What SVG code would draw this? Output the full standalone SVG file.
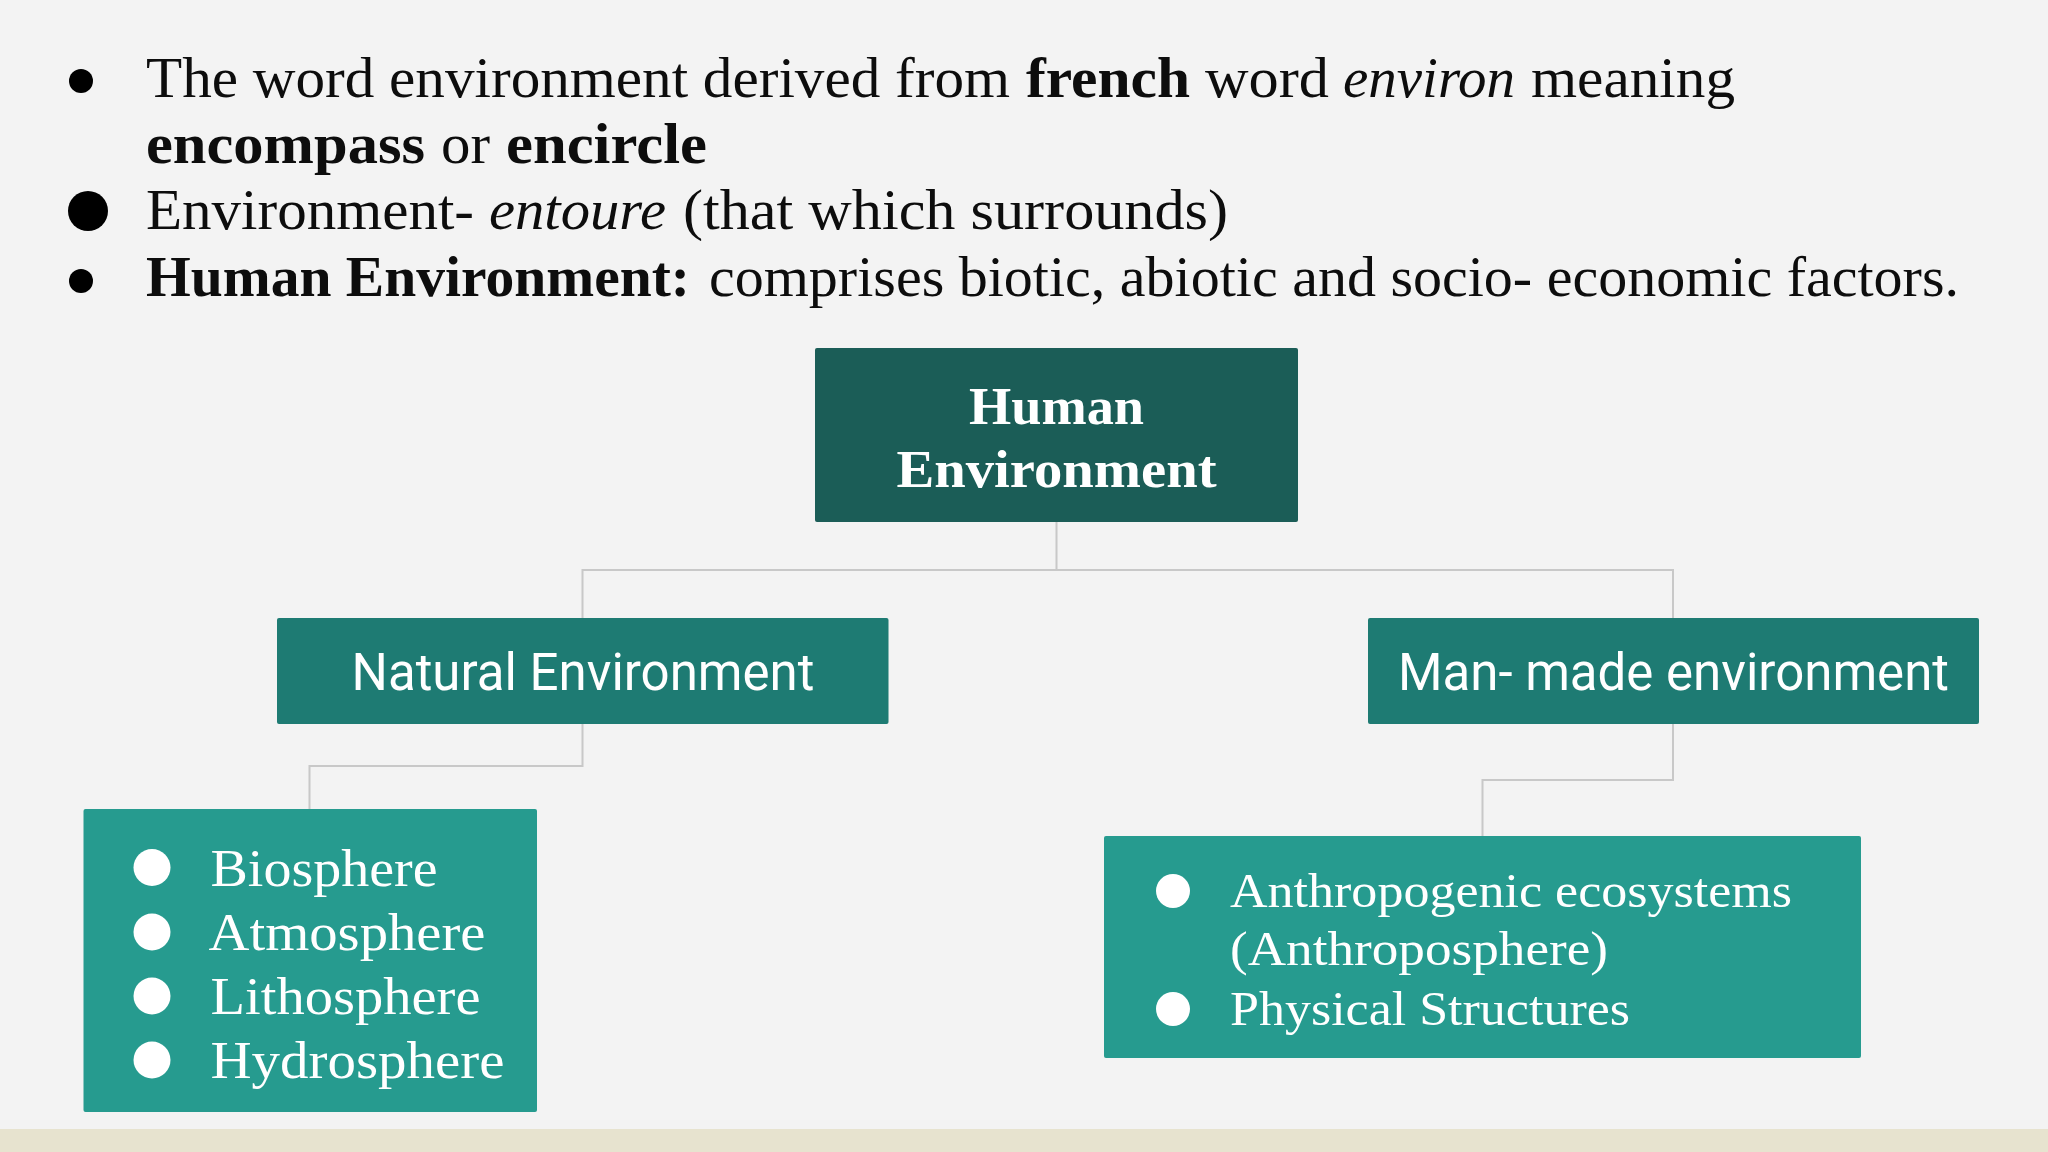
<svg xmlns="http://www.w3.org/2000/svg" width="2048" height="1152" viewBox="0 0 2048 1152">
<style>
.ser{font-family:"Liberation Serif","Times New Roman",serif;font-size:56px;fill:#0d0d0d}
.b{font-weight:bold}
.i{font-style:italic}
.hb{font-family:"Liberation Serif",serif;font-weight:bold;font-size:52px;fill:#ffffff}
.rb{font-family:Roboto,"Noto Sans",sans-serif;font-size:51px;fill:#ffffff}
.ls{font-family:"Liberation Serif",serif;font-size:53px;fill:#ffffff}
.as{font-family:"Liberation Serif",serif;font-size:48px;fill:#ffffff}
.conn{fill:none;stroke:#c8c8c8;stroke-width:2}
</style>
<rect x="0" y="0" width="2048" height="1152" fill="#f3f3f3"/>
<rect x="0" y="1129" width="2048" height="23" fill="#e7e3cf"/>

<g id="intro">
<circle cx="81" cy="81" r="12" fill="#000"/>
<text class="ser" x="146" y="97" textLength="864" lengthAdjust="spacingAndGlyphs">The word environment derived from</text>
<text class="ser b" x="1026" y="97" textLength="164" lengthAdjust="spacingAndGlyphs">french</text>
<text class="ser" x="1205" y="97" textLength="124" lengthAdjust="spacingAndGlyphs">word</text>
<text class="ser i" x="1343" y="97" textLength="172" lengthAdjust="spacingAndGlyphs">environ</text>
<text class="ser" x="1531" y="97" textLength="204" lengthAdjust="spacingAndGlyphs">meaning</text>
<text class="ser b" x="146" y="163" textLength="279" lengthAdjust="spacingAndGlyphs">encompass</text>
<text class="ser" x="441" y="163" textLength="49" lengthAdjust="spacingAndGlyphs">or</text>
<text class="ser b" x="506" y="163" textLength="201" lengthAdjust="spacingAndGlyphs">encircle</text>
<circle cx="88" cy="211" r="20" fill="#000"/>
<text class="ser" x="146" y="229" textLength="328" lengthAdjust="spacingAndGlyphs">Environment-</text>
<text class="ser i" x="489" y="229" textLength="177" lengthAdjust="spacingAndGlyphs">entoure</text>
<text class="ser" x="683" y="229" textLength="545" lengthAdjust="spacingAndGlyphs">(that which surrounds)</text>
<circle cx="81" cy="281" r="12" fill="#000"/>
<text class="ser b" x="146" y="296" textLength="544" lengthAdjust="spacingAndGlyphs">Human Environment:</text>
<text class="ser" x="709" y="296" textLength="1250" lengthAdjust="spacingAndGlyphs">comprises biotic, abiotic and socio- economic factors.</text>
</g>

<g id="connectors">
<path class="conn" d="M1056.5,522 V570 H582.5 V618"/>
<path class="conn" d="M1056.5,570 H1673 V618"/>
<path class="conn" d="M582.5,724 V766 H309.5 V809"/>
<path class="conn" d="M1673,724 V780 H1482.5 V836"/>
</g>

<g id="human-environment">
<rect x="815" y="348" width="483" height="174" rx="2" fill="#1b5d57"/>
<text class="hb" x="1056.5" y="424" text-anchor="middle" textLength="175" lengthAdjust="spacingAndGlyphs">Human</text>
<text class="hb" x="1056.5" y="487" text-anchor="middle" textLength="320" lengthAdjust="spacingAndGlyphs">Environment</text>
</g>

<g id="natural-environment">
<rect x="277" y="618" width="611.5" height="106" rx="2" fill="#1e7b73"/>
<text class="rb" x="583" y="690" text-anchor="middle">Natural Environment</text>
</g>

<g id="man-made-environment">
<rect x="1368" y="618" width="611" height="106" rx="2" fill="#1e7b73"/>
<text class="rb" x="1673.5" y="690" text-anchor="middle">Man- made environment</text>
</g>

<g id="natural-list">
<rect x="83.5" y="809" width="453.5" height="303" rx="2" fill="#269b8f"/>
<circle cx="152" cy="867.5" r="18.5" fill="#fff"/>
<circle cx="152" cy="932" r="18.5" fill="#fff"/>
<circle cx="152" cy="996" r="18.5" fill="#fff"/>
<circle cx="152" cy="1060" r="18.5" fill="#fff"/>
<text class="ls" x="210.5" y="886" textLength="227" lengthAdjust="spacingAndGlyphs">Biosphere</text>
<text class="ls" x="208.5" y="950" textLength="277" lengthAdjust="spacingAndGlyphs">Atmosphere</text>
<text class="ls" x="210.5" y="1013.5" textLength="270" lengthAdjust="spacingAndGlyphs">Lithosphere</text>
<text class="ls" x="210.5" y="1078" textLength="294" lengthAdjust="spacingAndGlyphs">Hydrosphere</text>
</g>

<g id="man-made-list">
<rect x="1104" y="836" width="757" height="222" rx="2" fill="#269b8f"/>
<circle cx="1173" cy="891" r="17" fill="#fff"/>
<circle cx="1173" cy="1009" r="17" fill="#fff"/>
<text class="as" x="1230" y="907" textLength="562" lengthAdjust="spacingAndGlyphs">Anthropogenic ecosystems</text>
<text class="as" x="1230" y="965" textLength="378" lengthAdjust="spacingAndGlyphs">(Anthroposphere)</text>
<text class="as" x="1230" y="1025" textLength="400" lengthAdjust="spacingAndGlyphs">Physical Structures</text>
</g>
</svg>
